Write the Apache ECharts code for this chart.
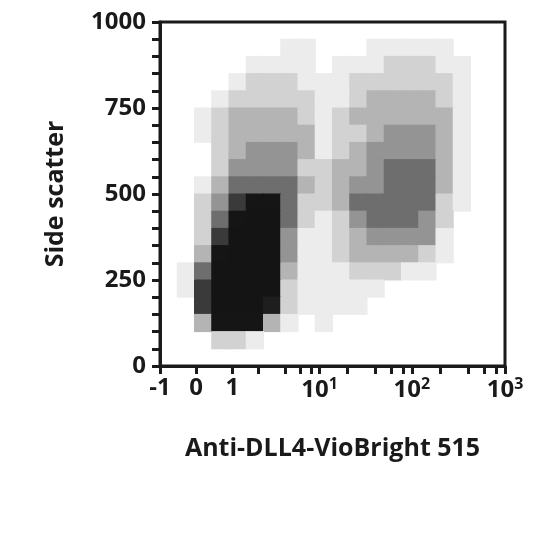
<!DOCTYPE html>
<html>
<head>
<meta charset="utf-8">
<script src="https://cdn.jsdelivr.net/npm/echarts@6/dist/echarts.min.js"></script>
<style>html,body{margin:0;background:#fff}#main{width:540px;height:540px}</style>
</head>
<body>
<div id="main"></div>
<script>
// 密度网格：20列(荧光, 显示单位 0~4) x 20行(侧向散射 1000→0)，数值 0~9 读自原图
var xStep = 0.2, yStep = 50;
var densityRows = [
    [0,0,0,0,0,0,0,0,0,0,0,0,0,0,0,0,0,0,0,0],
    [0,0,0,0,0,0,0,1,1,0,0,0,1,1,1,1,1,0,0,0],
    [0,0,0,0,0,1,1,1,1,0,1,1,1,2,2,2,1,1,0,0],
    [0,0,0,0,1,2,2,2,1,1,1,2,2,2,2,2,2,1,0,0],
    [0,0,0,1,2,2,2,2,2,1,1,2,3,3,3,3,2,1,0,0],
    [0,0,1,2,3,3,3,3,2,1,2,3,3,3,3,3,3,1,0,0],
    [0,0,1,2,3,3,3,3,3,1,2,2,3,4,4,4,3,1,0,0],
    [0,0,0,2,3,4,4,4,3,1,2,3,4,4,4,4,3,1,0,0],
    [0,0,0,2,4,4,4,4,2,2,3,3,4,5,5,5,3,1,0,0],
    [0,0,1,3,5,5,5,5,3,2,3,4,4,5,5,5,3,1,0,0],
    [0,0,2,4,6,8,8,5,2,2,3,5,5,5,5,5,2,1,0,0],
    [0,0,2,5,8,9,9,5,2,1,2,4,5,5,5,4,2,0,0,0],
    [0,0,2,6,9,9,9,4,1,1,2,3,4,4,4,4,1,0,0,0],
    [0,0,3,8,9,9,9,4,1,1,2,3,3,3,3,2,1,0,0,0],
    [0,1,5,9,9,9,9,3,1,1,1,2,2,2,1,1,0,0,0,0],
    [0,1,6,9,9,9,9,2,1,1,1,1,1,0,0,0,0,0,0,0],
    [0,0,6,9,9,9,7,2,1,1,1,1,0,0,0,0,0,0,0,0],
    [0,0,3,8,8,8,3,1,0,1,0,0,0,0,0,0,0,0,0,0],
    [0,0,0,2,2,1,0,0,0,0,0,0,0,0,0,0,0,0,0,0],
    [0,0,0,0,0,0,0,0,0,0,0,0,0,0,0,0,0,0,0,0]
];
// x轴刻度(显示单位)与标签
var xTickPos = [0, 0.42, 0.84, 1.85, 2.92, 4];
var xTickLabels = ['-1', '0', '1', '10{s|1}', '10{s|2}', '10{s|3}'];
var yTickLabels = [0, 250, 500, 750, 1000];

var data = [];
densityRows.forEach(function (row, r) {
    row.forEach(function (v, c) {
        if (v > 0) data.push([xStep * c + xStep / 2, 1000 - yStep * r - yStep / 2, v]);
    });
});

// 对数次刻度 2,4,6,8
var xMinor = [];
for (var d = 0; d < 3; d++) {
    var a = xTickPos[2 + d], b = xTickPos[3 + d];
    [2, 4, 6, 8].forEach(function (k) { xMinor.push(a + (b - a) * Math.log10(k)); });
}
var yMinor = [];
for (var y = 0; y <= 1000; y += 50) yMinor.push(y);

var labelFont = {color: '#1a1a1a', fontSize: 24, fontWeight: 'bold', fontFamily: 'Open Sans'};

var myChart = echarts.init(document.getElementById('main'));
var option = {
    grid: {
        left: 160, right: 35, top: 22, bottom: 174,
        show: true, borderColor: '#1a1a1a', borderWidth: 3
    },
    visualMap: {
        show: false, min: 1, max: 9, dimension: 2,
        inRange: {color: ['#ececec', '#d2d2d2', '#b4b4b4', '#949494', '#6e6e6e', '#3a3a3a', '#1e1e1e', '#151515', '#141414']}
    },
    xAxis: {
        type: 'value', min: 0, max: 4,
        name: 'Anti-DLL4-VioBright 515', nameLocation: 'middle', nameGap: 70,
        nameTextStyle: {color: '#1a1a1a', fontSize: 25, fontWeight: 'bold', fontFamily: 'Open Sans'},
        splitLine: {show: false},
        axisLine: {lineStyle: {color: '#1a1a1a', width: 3}},
        axisTick: {length: 8, lineStyle: {color: '#1a1a1a', width: 3}, customValues: xTickPos.concat(xMinor)},
        axisLabel: Object.assign({
            margin: 10,
            customValues: xTickPos,
            formatter: function (v) {
                var i = xTickPos.indexOf(v);
                return i >= 0 ? xTickLabels[i] : '';
            },
            rich: {s: {fontSize: 16, fontWeight: 'bold', verticalAlign: 'top', padding: [0, 0, 12, 0], fontFamily: 'Open Sans', color: '#1a1a1a'}}
        }, labelFont)
    },
    yAxis: {
        type: 'value', min: 0, max: 1000,
        name: 'Side scatter', nameLocation: 'middle', nameGap: 92,
        nameTextStyle: {color: '#1a1a1a', fontSize: 25, fontWeight: 'bold', fontFamily: 'Open Sans'},
        splitLine: {show: false},
        axisLine: {lineStyle: {color: '#1a1a1a', width: 3}},
        axisTick: {length: 8, lineStyle: {color: '#1a1a1a', width: 3}, customValues: yMinor},
        axisLabel: Object.assign({margin: 14, customValues: yTickLabels, formatter: function (v) { return String(v); }}, labelFont)
    },
    series: [{
        type: 'scatter',
        symbol: 'rect',
        symbolSize: [18.3, 18.2],
        itemStyle: {opacity: 1},
        data: data
    }]
};
myChart.setOption(option);
</script>
</body>
</html>
